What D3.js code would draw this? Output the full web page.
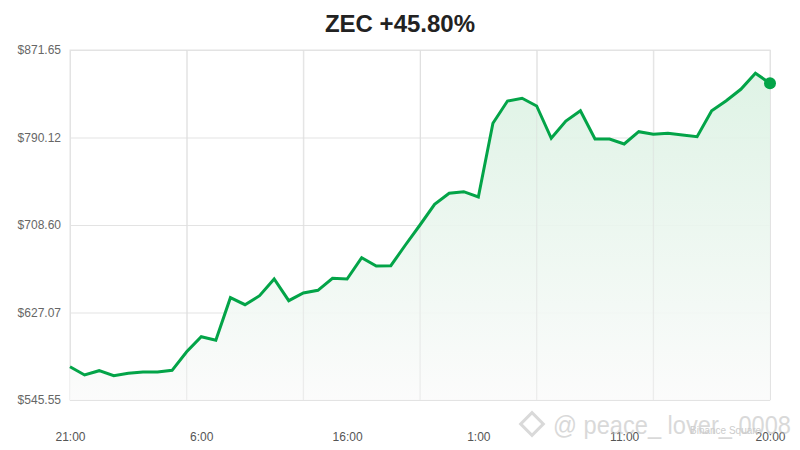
<!DOCTYPE html>
<html lang="en">
  <head>
    <meta charset="UTF-8" />
    <title>ZEC</title>
    <script src="https://d3js.org/d3.v7.min.js"></script>
    <style>
      body { margin: 0; background: #fff; }
      text { font-family: "Liberation Sans", Arial, sans-serif; }
    </style>
  </head>

  <body>
    <svg id="chart" width="800" height="450"></svg>
    <script>
      // hourly closes, 21:00 -> 20:00 (49 points)
      const prices = [
        576.58, 568.84, 572.85, 568.19, 570.43, 571.64, 571.64, 573.22, 590.55,
        604.53, 601.17, 640.86, 634.34, 642.73, 658.29, 638.07, 645.24, 647.76,
        658.94, 658.29, 678.13, 670.40, 670.68, 689.97, 708.60, 727.89, 738.14,
        739.63, 734.69, 803.36, 824.13, 826.65, 819.47, 789.38, 805.50, 815.10,
        788.73, 788.73, 784.07, 795.53, 793.11, 794.04, 792.45, 790.87, 815.10,
        824.41, 835.03, 849.94, 840.62,
      ];
      const yTicks = [545.55, 627.07, 708.6, 790.12, 871.65];
      const xLabels = ["21:00", "6:00", "16:00", "1:00", "11:00", "20:00"];
      const xLabelIdx = [0, 9, 19, 28, 38, 48];
      const title = "ZEC +45.80%";

      const svg = d3.select("#chart");
      const margin = { top: 50, right: 30, bottom: 50, left: 70 };
      const width = +svg.attr("width");
      const height = +svg.attr("height");
      const innerW = width - margin.left - margin.right;
      const innerH = height - margin.top - margin.bottom;
      const green = "#03a448";

      const x = d3.scaleLinear().domain([0, prices.length - 1]).range([0, innerW]);
      const y = d3.scaleLinear().domain([yTicks[0], yTicks[yTicks.length - 1]]).range([innerH, 0]);

      const defs = svg.append("defs");
      const grad = defs
        .append("linearGradient")
        .attr("id", "fillGrad")
        .attr("gradientUnits", "userSpaceOnUse")
        .attr("x1", 0).attr("x2", 0)
        .attr("y1", 0).attr("y2", innerH);
      grad.append("stop").attr("offset", "0%").attr("stop-color", "#d9f1e1");
      grad.append("stop").attr("offset", "100%").attr("stop-color", "#fbfbfb");

      svg
        .append("text")
        .attr("x", width / 2)
        .attr("y", 32)
        .attr("text-anchor", "middle")
        .attr("font-size", 24)
        .attr("font-weight", "bold")
        .attr("fill", "#222")
        .text(title);

      const g = svg
        .append("g")
        .attr("transform", "translate(" + margin.left + "," + margin.top + ")");

      // horizontal grid + y labels
      const yAxis = g
        .append("g")
        .call(d3.axisLeft(y).tickValues(yTicks).tickSize(-innerW).tickPadding(9)
          .tickFormat((d) => "$" + d.toFixed(2)));
      yAxis.select(".domain").remove();
      yAxis.selectAll("line").attr("stroke", "#e3e3e3");
      yAxis.selectAll("text").attr("font-size", 12).attr("fill", "#666")
        .style("font-family", '"Liberation Sans", Arial, sans-serif');

      // vertical grid every 8 hours
      const xGrid = g
        .append("g")
        .attr("transform", "translate(0," + innerH + ")")
        .call(d3.axisBottom(x).tickValues(d3.range(0, prices.length, 8)).tickSize(-innerH).tickFormat(""));
      xGrid.select(".domain").remove();
      xGrid.selectAll("line").attr("stroke", "#e3e3e3");

      // x labels
      const xAxis = g
        .append("g")
        .attr("transform", "translate(0," + innerH + ")")
        .call(d3.axisBottom(x).tickValues(xLabelIdx).tickSize(0).tickPadding(32)
          .tickFormat((d, i) => xLabels[i]));
      xAxis.select(".domain").remove();
      xAxis.selectAll("text").attr("font-size", 12).attr("fill", "#555")
        .style("font-family", '"Liberation Sans", Arial, sans-serif');

      g.append("rect")
        .attr("width", innerW)
        .attr("height", innerH)
        .attr("fill", "none")
        .attr("stroke", "#e3e3e3");

      const area = d3.area()
        .x((d, i) => x(i))
        .y0(innerH)
        .y1((d) => y(d));
      g.append("path")
        .datum(prices)
        .attr("d", area)
        .attr("fill", "url(#fillGrad)")
        .attr("opacity", 0.9);

      // re-draw grid faintly over the fill
      g.selectAll("line.over")
        .data(d3.range(8, prices.length - 1, 8))
        .join("line")
        .attr("class", "over")
        .attr("x1", (d) => x(d)).attr("x2", (d) => x(d))
        .attr("y1", 0).attr("y2", innerH)
        .attr("stroke", "#dcdcdc")
        .attr("opacity", 0.5);

      const line = d3.line()
        .x((d, i) => x(i))
        .y((d) => y(d));
      g.append("path")
        .datum(prices)
        .attr("d", line)
        .attr("fill", "none")
        .attr("stroke", green)
        .attr("stroke-width", 3)
        .attr("stroke-linejoin", "miter");

      const last = prices.length - 1;
      g.append("circle")
        .attr("cx", x(last))
        .attr("cy", y(prices[last]))
        .attr("r", 6)
        .attr("fill", green);

      // watermark (overlay in the screenshot)
      const wm = svg.append("g").attr("opacity", 0.55);
      wm.append("rect")
        .attr("x", 524).attr("y", 416)
        .attr("width", 16).attr("height", 16)
        .attr("transform", "rotate(45 532 424)")
        .attr("fill", "none")
        .attr("stroke", "#bbb")
        .attr("stroke-width", 3);
      wm.append("text")
        .attr("x", 553).attr("y", 434)
        .attr("font-size", 26)
        .attr("textLength", 238)
        .attr("lengthAdjust", "spacingAndGlyphs")
        .attr("fill", "#bbb")
        .text("@ peace_ lover_ 0008");
      svg.append("text")
        .attr("x", 690).attr("y", 434)
        .attr("font-size", 10)
        .attr("fill", "#ccc")
        .text("Binance Square");
    </script>
  </body>
</html>
